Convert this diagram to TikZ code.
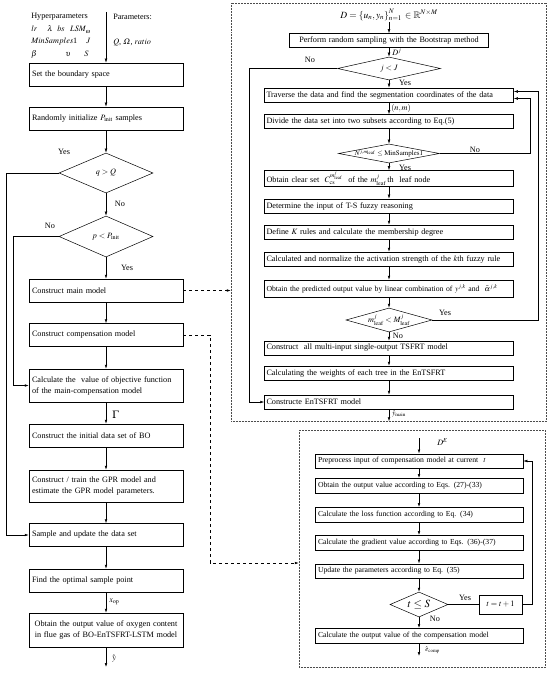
\documentclass[tikz,border=0pt]{standalone}
\usepackage{amsmath}
\usepackage{amssymb}
\usepackage{mathptmx}
\usepackage{fontspec}
\setmainfont{Liberation Serif}
\usetikzlibrary{shapes.geometric,arrows.meta}
\newcommand*{\leaf}[1][j]{\ensuremath{m^{#1}_{\mathrm{leaf}}}}
\newcommand*{\dtext}[1]{\makebox[0pt]{#1}}

\begin{document}
\begin{tikzpicture}[x=1pt, y=-1pt, line width=0.5pt,
    >={Latex[length=4pt,width=2.6pt]}, font=\fontsize{8.2}{11}\selectfont]
  \tikzstyle{lbox}=[draw, rectangle, minimum width=154pt, minimum height=23pt,
    text width=148pt, inner xsep=3pt, inner ysep=1pt, align=left]
  \tikzstyle{rbox}=[draw, rectangle, minimum width=249pt, minimum height=14pt,
    text width=245pt, inner xsep=2pt, inner ysep=1pt, align=left]
  \tikzstyle{cbox}=[draw, rectangle, minimum width=208pt, minimum height=14.5pt,
    text width=202pt, inner xsep=3pt, inner ysep=1pt, align=left,
    font=\fontsize{7.7}{10}\selectfont]
  \tikzstyle{decide}=[draw, diamond, inner sep=0pt]
  \tikzstyle{panel}=[draw=black!70, densely dotted, rectangle, inner sep=0pt]
  \tikzstyle{txt}=[inner sep=1pt]

  \useasboundingbox (0,0) rectangle (550,676);

  % main flow
  \node[txt, anchor=west] (hyp1) at (30,17) {Hyperparameters};
  \node[txt, anchor=west] (hyp2) at (30,29.5)
    {\makebox[16pt][l]{$lr$}\makebox[10pt][l]{$\lambda$}\makebox[13pt][l]{$bs$}$LSM_{\omega}$};
  \node[txt, anchor=west] (hyp3) at (30,42) {\makebox[55pt][l]{$MinSamples$1}$J$};
  \node[txt, anchor=west] (hyp4) at (30,54)
    {\makebox[34pt][l]{$\beta$}\makebox[19pt][l]{$\upsilon$}$S$};
  \node[txt, anchor=west] (par1) at (112,17) {Parameters:};
  \node[txt, anchor=west] (par2) at (112,42) {$Q$, $\varOmega$, $ratio$};
  \coordinate (ptop) at (106,12);

  \node[lbox] (bound) at (106,74.5) {Set the boundary space};
  \node[lbox] (init) at (106,118.5) {Randomly initialize $P_{\mathrm{init}}$ samples};
  \node[decide, minimum width=94pt, minimum height=40pt] (qQ) at (106,173) {\dtext{$q>Q$}};
  \node[decide, minimum width=94pt, minimum height=41pt] (pP) at (106,236.5) {\dtext{$p<P_{\mathrm{init}}$}};
  \node[lbox] (mainm) at (106,290.5) {Construct main model};
  \node[lbox] (comp) at (106,335) {Construct compensation model};
  \node[lbox, minimum height=33pt] (obj) at (106,385.5)
    {Calculate the\ \ value of objective function\\of the main-compensation model};
  \node[lbox] (ibo) at (106,435.5) {Construct the initial data set of BO};
  \node[lbox, minimum height=32pt] (gpr) at (106,486)
    {Construct / train the GPR model and\\estimate the GPR model parameters.};
  \node[lbox] (samp) at (106,535) {Sample and update the data set};
  \node[lbox] (opt) at (106,580.5) {Find the optimal sample point};
  \node[lbox, minimum height=34pt, text width=152pt, inner xsep=1pt, align=center] (out) at (106,630)
    {Obtain the output value of oxygen content\\in flue gas of BO-EnTSFRT-LSTM model};
  \coordinate (yend) at (106,667);

  \draw[->] (ptop) -- (bound);
  \foreach \a/\b in {bound/init, init/qQ, qQ/pP, pP/mainm, mainm/comp, comp/obj,
      obj/ibo, ibo/gpr, gpr/samp, samp/opt, opt/out, out/yend}
    \draw[->] (\a) -- (\b);

  \node[txt] (qyes) at (64,152) {Yes};
  \node[txt] (qno) at (120,204) {No};
  \node[txt] (pno) at (50,226) {No};
  \node[txt] (pyes) at (127,268) {Yes};
  \node[txt, anchor=west] (gam) at (111,415) {\fontsize{11}{11}\selectfont$\Gamma$};
  \node[txt, anchor=west] (xop) at (108,602) {$\boldsymbol{x}_{\mathrm{op}}$};
  \node[txt, anchor=west] (yh) at (111,659) {$\hat{\boldsymbol{y}}$};

  \coordinate (qc) at (6,535);
  \draw[->] (qQ.west) -| (qc) -- (samp.west);
  \coordinate (pc) at (13,385.5);
  \draw[->] (pP.west) -| (pc) -- (obj.west);

  % sub-models
  \node[panel, minimum width=315pt, minimum height=418pt] (mpanel) at (388.5,212) {};
  \node[panel, minimum width=246pt, minimum height=237pt] (cpanel) at (422,548.5) {};
  \draw[dashed, ->] (mainm.east) -- (mainm.east -| mpanel.west);
  \coordinate (cc) at (210,563);
  \draw[dashed, ->] (comp.east) -| (cc) -- (cc -| cpanel.west);

  % main model
  \node[txt] (dform) at (389,15) {\fontsize{9.5}{10}\selectfont
    $\boldsymbol{D}=\left\{\boldsymbol{u}_n,y_n\right\}_{n=1}^{N}\,\in\mathbb{R}^{N\times M}$};
  \node[rbox, minimum width=199pt, text width=195pt, align=center] (boot) at (389,40.5)
    {Perform random sampling with the Bootstrap method};
  \node[decide, minimum width=103pt, minimum height=23pt] (jJ) at (389,68.5) {\dtext{$j<J$}};
  \node[rbox] (trav) at (389,95)
    {Traverse the data and find the segmentation coordinates of the data};
  \node[rbox] (divi) at (389,121.5) {Divide the data set into two subsets according to Eq.(5)};
  \node[decide, minimum width=101pt, minimum height=19pt] (nsm) at (389,153.5)
    {\dtext{\scriptsize$N^{j,m_{\mathrm{leaf}}}\le\mathrm{MinSamples1}$}};
  \node[rbox] (clear) at (389,178.5)
    {Obtain clear set\ \ $C_{\mathrm{cs}}^{\leaf}$\ \ of the \leaf\,th\ \ leaf node};
  \node[rbox] (tsin) at (389,206) {Determine the input of T-S fuzzy reasoning};
  \node[rbox] (rules) at (389,232) {Define $K$ rules and calculate the membership degree};
  \node[rbox] (act) at (389,259)
    {Calculated and normalize the activation strength of the $k$th fuzzy rule};
  \node[rbox, minimum height=17pt, font=\fontsize{7.7}{10}\selectfont] (pred) at (389,288.5)
    {Obtain the predicted output value by linear combination of $y^{j,k}$\ and\ \ $\bar{\alpha}^{j,k}$};
  \node[decide, minimum width=86pt, minimum height=24pt] (mleaf) at (389,320)
    {\dtext{$\leaf<M^{j}_{\mathrm{leaf}}$}};
  \node[rbox] (tsfrt) at (389,348) {Construct\ \ all multi-input single-output TSFRT model};
  \node[rbox] (wts) at (389,373) {Calculating the weights of each tree in the EnTSFRT};
  \node[rbox] (ens) at (389,402) {Constructe EnTSFRT model};

  \foreach \a/\b in {dform/boot, boot/jJ, jJ/trav, trav/divi, divi/nsm, nsm/clear,
      clear/tsin, tsin/rules, rules/act, act/pred, pred/mleaf, mleaf/tsfrt, tsfrt/wts, wts/ens}
    \draw[->] (\a) -- (\b);
  \draw[->] (ens) -- (ens |- mpanel.south);

  \node[txt, anchor=west] (dj) at (391,52) {$\boldsymbol{D}^{j}$};
  \node[txt] (jno) at (310,60) {No};
  \node[txt] (jyes) at (405,83) {Yes};
  \node[txt, anchor=west] (nm) at (390,108) {$(n,m)$};
  \node[txt] (nno) at (475,150) {No};
  \node[txt] (nyes) at (405,168) {Yes};
  \node[txt] (myes) at (445,313) {Yes};
  \node[txt] (mno) at (398,336) {No};
  \node[txt, anchor=west] (ym) at (391,414) {\scriptsize$\hat{y}_{\mathrm{main}}$};

  \coordinate (jc) at (249,402);
  \draw[->] (jJ.west) -| (jc) -- (ens.west);
  \coordinate (nc) at (530,98.5);
  \draw[->] (nsm.east) -| (nc) -- ([yshift=-3.5pt]trav.east);
  \coordinate (mc) at (538,91.5);
  \draw[->] (mleaf.east) -| (mc) -- ([yshift=3.5pt]trav.east);

  % compensation model
  \coordinate (etop) at (419,438);
  \node[txt, anchor=west] (de) at (436,442) {$\boldsymbol{D}^{E}$};
  \node[cbox] (pre) at (419,461) {Preprocess input of compensation model at current\ \ $t$};
  \node[cbox] (obt) at (419,485.5) {Obtain the output value according to Eqs. (27)-(33)};
  \node[cbox] (loss) at (419,514.5) {Calculate the loss function according to Eq. (34)};
  \node[cbox] (grad) at (419,542.5) {Calculate the gradient value according to Eqs. (36)-(37)};
  \node[cbox] (upd) at (419,571) {Update the parameters according to Eq. (35)};
  \node[decide, minimum width=58pt, minimum height=25pt] (tS) at (419,604.5)
    {\dtext{\fontsize{11}{11}\selectfont$t\le S$}};
  \node[draw, rectangle, minimum width=43pt, minimum height=19pt] (tinc) at (500.5,604.5) {$t=t+1$};
  \node[cbox] (cout) at (419,635.5) {Calculate the output value of the compensation model};
  \coordinate (eend) at (419,656);

  \foreach \a/\b in {etop/pre, pre/obt, obt/loss, loss/grad, grad/upd, upd/tS, tS/cout, cout/eend}
    \draw[->] (\a) -- (\b);
  \draw (tS) -- (tinc);
  \coordinate (tc) at (532,461);
  \draw[->] (tinc.east) -| (tc) -- (pre.east);

  \node[txt] (tyes) at (465,598) {Yes};
  \node[txt] (tno) at (435,619) {No};
  \node[txt, anchor=west] (ec) at (424,650) {\scriptsize$\hat{\boldsymbol{e}}_{\mathrm{comp}}$};
\end{tikzpicture}
\end{document}
